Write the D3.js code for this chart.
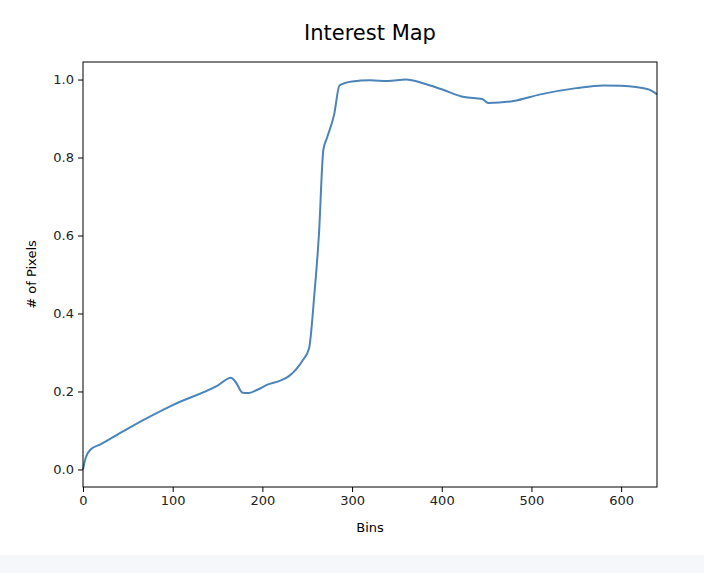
<!DOCTYPE html>
<html><head><meta charset="utf-8">
<script src="https://cdn.jsdelivr.net/npm/d3@7"></script>
<style>body{margin:0;background:#fff;font-family:"DejaVu Sans",sans-serif}</style>
</head><body><div id="chart"></div>
<script>
// values
var bins = [0,3,8,20,50,100,150,165,170,178,185,195,205,220,230,245,252,258,263,268,272,280,286,300,320,340,360,380,400,425,445,452,480,510,550,580,600,630,640];
var pixels = [0.0,0.03,0.05,0.065,0.105,0.165,0.215,0.235,0.225,0.197,0.196,0.205,0.217,0.228,0.24,0.28,0.31,0.45,0.6,0.82,0.85,0.91,0.985,0.995,0.998,0.996,1.0,0.99,0.975,0.955,0.95,0.94,0.945,0.962,0.978,0.985,0.984,0.975,0.962];
var xTicks = [0,100,200,300,400,500,600];
var yTicks = [0,0.2,0.4,0.6,0.8,1.0];

var W = 704, H = 573;
var margin = {top: 62, right: 47, bottom: 86, left: 83},
  width = W - margin.left - margin.right,
  height = H - margin.top - margin.bottom;

var svg = d3.select("#chart").append("svg")
  .attr("width", W).attr("height", H);

svg.append("rect").attr("x", 0).attr("y", 555).attr("width", W).attr("height", 18).attr("fill", "#f5f7fa");

var g = svg.append("g")
  .attr("transform", "translate(" + margin.left + "," + margin.top + ")");

var x = d3.scaleLinear().domain([0, 640]).range([0, width]);
var y = d3.scaleLinear().domain([-0.045, 1.045]).range([height, 0]);

var xAxis = g.append("g")
  .attr("transform", "translate(0," + height + ")")
  .call(d3.axisBottom(x).tickValues(xTicks).tickSize(5).tickPadding(4));
var yAxis = g.append("g")
  .call(d3.axisLeft(y).tickValues(yTicks).tickFormat(d3.format(".1f")).tickSize(5).tickPadding(4));
[xAxis, yAxis].forEach(function(a) {
  a.select(".domain").remove();
  a.selectAll("text").style("font-size", "13px").style("font-family", "DejaVu Sans").attr("fill", "#222");
});

g.append("path")
  .datum(bins.map(function(b, i) { return [b, pixels[i]]; }))
  .attr("fill", "none")
  .attr("stroke", "#4a84b9")
  .attr("stroke-width", 2)
  .attr("d", d3.line().x(function(d) { return x(d[0]); }).y(function(d) { return y(d[1]); }).curve(d3.curveMonotoneX));

g.append("rect").attr("width", width).attr("height", height)
  .attr("fill", "none").attr("stroke", "#000").attr("stroke-width", 1);

svg.append("text").attr("x", margin.left + width / 2).attr("y", 40)
  .attr("text-anchor", "middle").style("font-size", "21px").text("Interest Map");
svg.append("text").attr("x", margin.left + width / 2).attr("y", margin.top + height + 45)
  .attr("text-anchor", "middle").style("font-size", "13px").text("Bins");
svg.append("text").attr("transform", "rotate(-90)")
  .attr("x", -(margin.top + height / 2)).attr("y", 36)
  .attr("text-anchor", "middle").style("font-size", "13px").text("# of Pixels");
</script></body></html>
